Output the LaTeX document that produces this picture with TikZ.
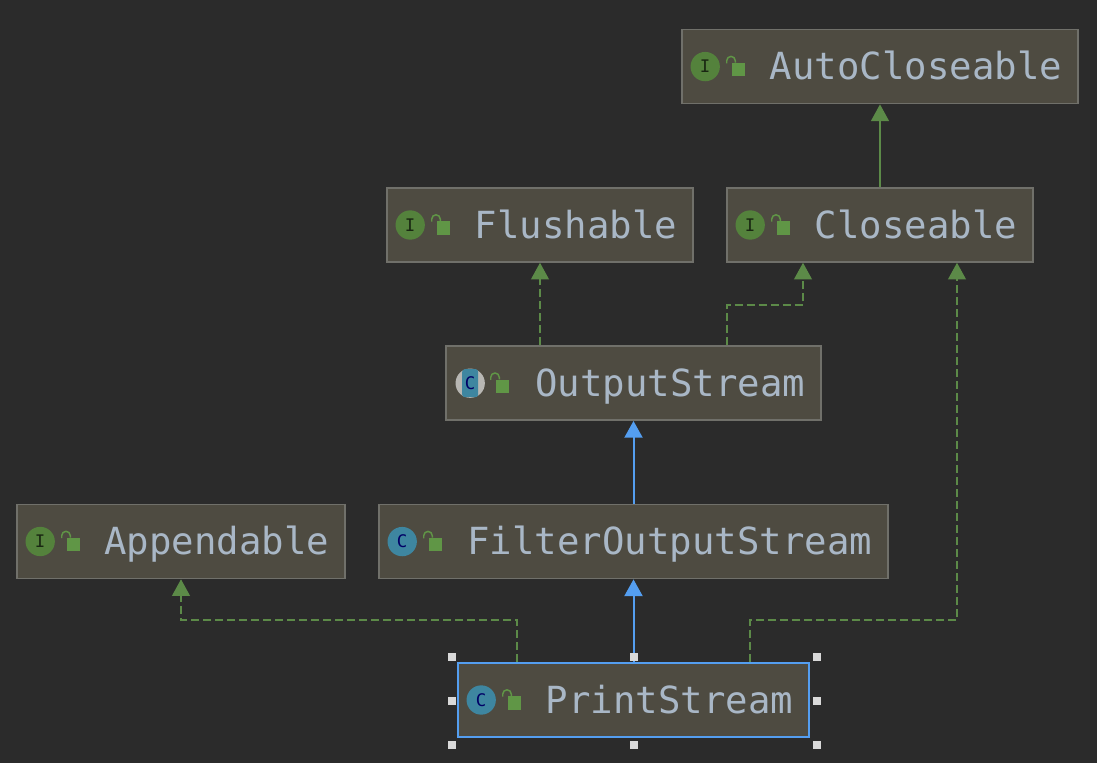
\documentclass[tikz,border=0pt]{standalone}
\usepackage{fontspec}
\setmonofont{DejaVu Sans Mono}
\usetikzlibrary{arrows.meta,calc}
\definecolor{mybg}{RGB}{43,43,43}
\definecolor{myfill}{RGB}{78,75,65}
\definecolor{myborder}{RGB}{112,112,106}
\definecolor{mytext}{RGB}{169,183,198}
\definecolor{mygreen}{RGB}{92,138,72}
\definecolor{myblue}{RGB}{84,158,240}
\definecolor{icongreen}{RGB}{84,130,60}
\definecolor{iconblue}{RGB}{62,134,160}
\definecolor{lockgreen}{RGB}{96,150,70}
\begin{document}
\begin{tikzpicture}[x=0.75pt,y=-0.75pt,
    classbox/.style={draw=myborder,fill=myfill,line width=1.2pt,text=mytext,
        font=\ttfamily\fontsize{28}{32}\selectfont,align=right,inner xsep=12pt,
        inner ysep=0pt,minimum height=55.5pt,text height=26pt,text depth=6pt,
        text width={(#1-32)*0.75pt}},
    ifaceicon/.style={circle,fill=icongreen,inner sep=0pt,minimum size=22pt,text=black!70!icongreen,
        font=\ttfamily\fontsize{13}{13}\selectfont},
    classicon/.style={ifaceicon,fill=iconblue,text=blue!40!black},
    lockbody/.style={fill=lockgreen,inner sep=0pt,minimum size=10pt},
    shackle/.style={draw=lockgreen,line width=1.1pt},
    handle/.style={fill=white!85!black,inner sep=0pt,minimum size=6.5pt},
    impl/.style={draw=mygreen,line width=0.8pt,dash pattern=on 6pt off 3pt,-{Triangle[length=12.5pt,width=13.5pt]}},
    inherit/.style={draw=mygreen,line width=0.8pt,-{Triangle[length=12.5pt,width=13.5pt]}},
    subclass/.style={draw=myblue,line width=1.5pt,-{Triangle[length=12.5pt,width=13.5pt]}},
    node distance=118.8pt
    ]
    \fill[mybg] (0,0) rectangle (1097,763);
    \useasboundingbox (0,0) rectangle (1097,763);

    \node (print) [classbox=351,draw=myblue] at (633.5,700) {PrintStream};
    \node (filter) [classbox=509,above of=print] {FilterOutputStream};
    \node (output) [classbox=375,above of=filter] {OutputStream};
    \node (append) [classbox=328] at (181,541.5) {Appendable};
    \node (flush) [classbox=306] at (540,225) {Flushable};
    \node (close) [classbox=306] at (880,225) {Closeable};
    \node (auto) [classbox=396,above of=close] {AutoCloseable};

    % the icons
    \foreach \b in {auto,close,flush,append}
        \node (\b icon) [ifaceicon] at ($(\b.west)+(24,0)$) {I};
    \foreach \b in {filter,print}
        \node (\b icon) [classicon] at ($(\b.west)+(24,0)$) {C};
    \node (outputring) [ifaceicon,fill=white!60!myfill] at ($(output.west)+(25,0)$) {};
    \node (outputicon) [classicon,rectangle,rounded corners=2pt,minimum width=12pt,minimum height=21pt] at (outputring) {C};
    \foreach \b in {auto,close,flush,output,filter,append,print} {
        \node (\b lock) [lockbody] at ($(\b.west)+(57,3)$) {};
        \draw[shackle] ([xshift=3pt]\b lock.north west) -- ++(0pt,1.5pt) arc[start angle=0,end angle=180,radius=3.2pt] -- ++(0pt,-2pt);
    }

    % the bends
    \coordinate (outbend) at (727,305);
    \coordinate (closebend) at (803,305);
    \coordinate (appbend) at (517,620);
    \coordinate (rightbend) at (750,620);
    \coordinate (farbend) at (957,620);
    \coordinate (flushfoot) at (540,263);

    % the edges
    \draw[inherit] (close) -- (auto);
    \draw[impl] (output.north -| flushfoot) -- (flush.south -| flushfoot);
    \draw[impl] (output.north -| outbend) -- (outbend) -- (closebend) -- (close.south -| closebend);
    \draw[impl] (print.north -| appbend) -- (appbend) -| (append.south);
    \draw[impl] (print.north -| rightbend) -- (rightbend) -- (farbend) -- (close.south -| farbend);
    \draw[subclass] (filter) -- (output);
    \draw[subclass] (print) -- (filter);

    % the handles
    \node (h1) [handle] at (452,657) {};
    \node (h2) [handle] at (634,657) {};
    \node (h3) [handle] at (817,657) {};
    \node (h4) [handle] at (452,701) {};
    \node (h5) [handle] at (817,701) {};
    \node (h6) [handle] at (452,745) {};
    \node (h7) [handle] at (634,745) {};
    \node (h8) [handle] at (817,745) {};
\end{tikzpicture}
\end{document}
